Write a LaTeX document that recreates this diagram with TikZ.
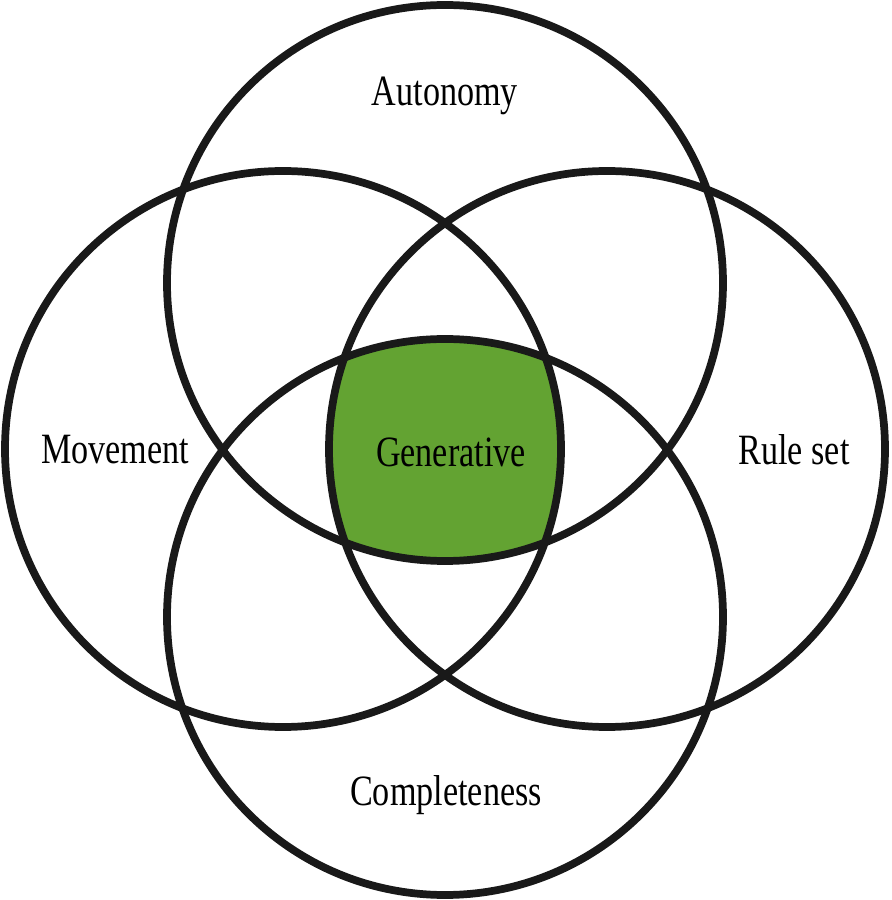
\documentclass[tikz,border=0pt]{standalone}
\usepackage{fontspec}
\setmainfont{Liberation Serif}[FakeStretch=0.79]
\usepackage{tikz}
\usetikzlibrary{positioning}
\definecolor{leafgreen}{RGB}{99,163,50}

\begin{document}
\begin{tikzpicture}[
	ring/.style={draw=black!90, line width=2.2pt}, % circle outline
	L/.style={font=\fontsize{12.3}{14}\selectfont, inner sep=0pt},
	]
	\useasboundingbox (0,0) rectangle (8.91,9.00);

	% Circle centres
	\coordinate (T) at (4.45,6.17);
	\coordinate (B) at (4.45,2.83);
	\coordinate (W) at (2.83,4.51);
	\coordinate (E) at (6.07,4.51);
	\def\rad{2.78}

	% Common region of all four circles
	\begin{scope}
		\clip (T) circle (\rad);
		\clip (B) circle (\rad);
		\clip (W) circle (\rad);
		\fill[leafgreen] (E) circle (\rad);
	\end{scope}

	% Outlines
	\draw[ring] (T) circle (\rad);
	\draw[ring] (B) circle (\rad);
	\draw[ring] (W) circle (\rad);
	\draw[ring] (E) circle (\rad);

	% Labels
	\node[L] (aut) at (4.45,8.04) {Autonomy};
	\node[L] (mov) at (1.15,4.50) {Movement};
	\node[L] (rul) at (7.94,4.50) {Rule set};
	\node[L] (com) at (4.46,1.05) {Completeness};
	\node[L] (gen) at (4.51,4.48) {Generative};
\end{tikzpicture}
\end{document}
